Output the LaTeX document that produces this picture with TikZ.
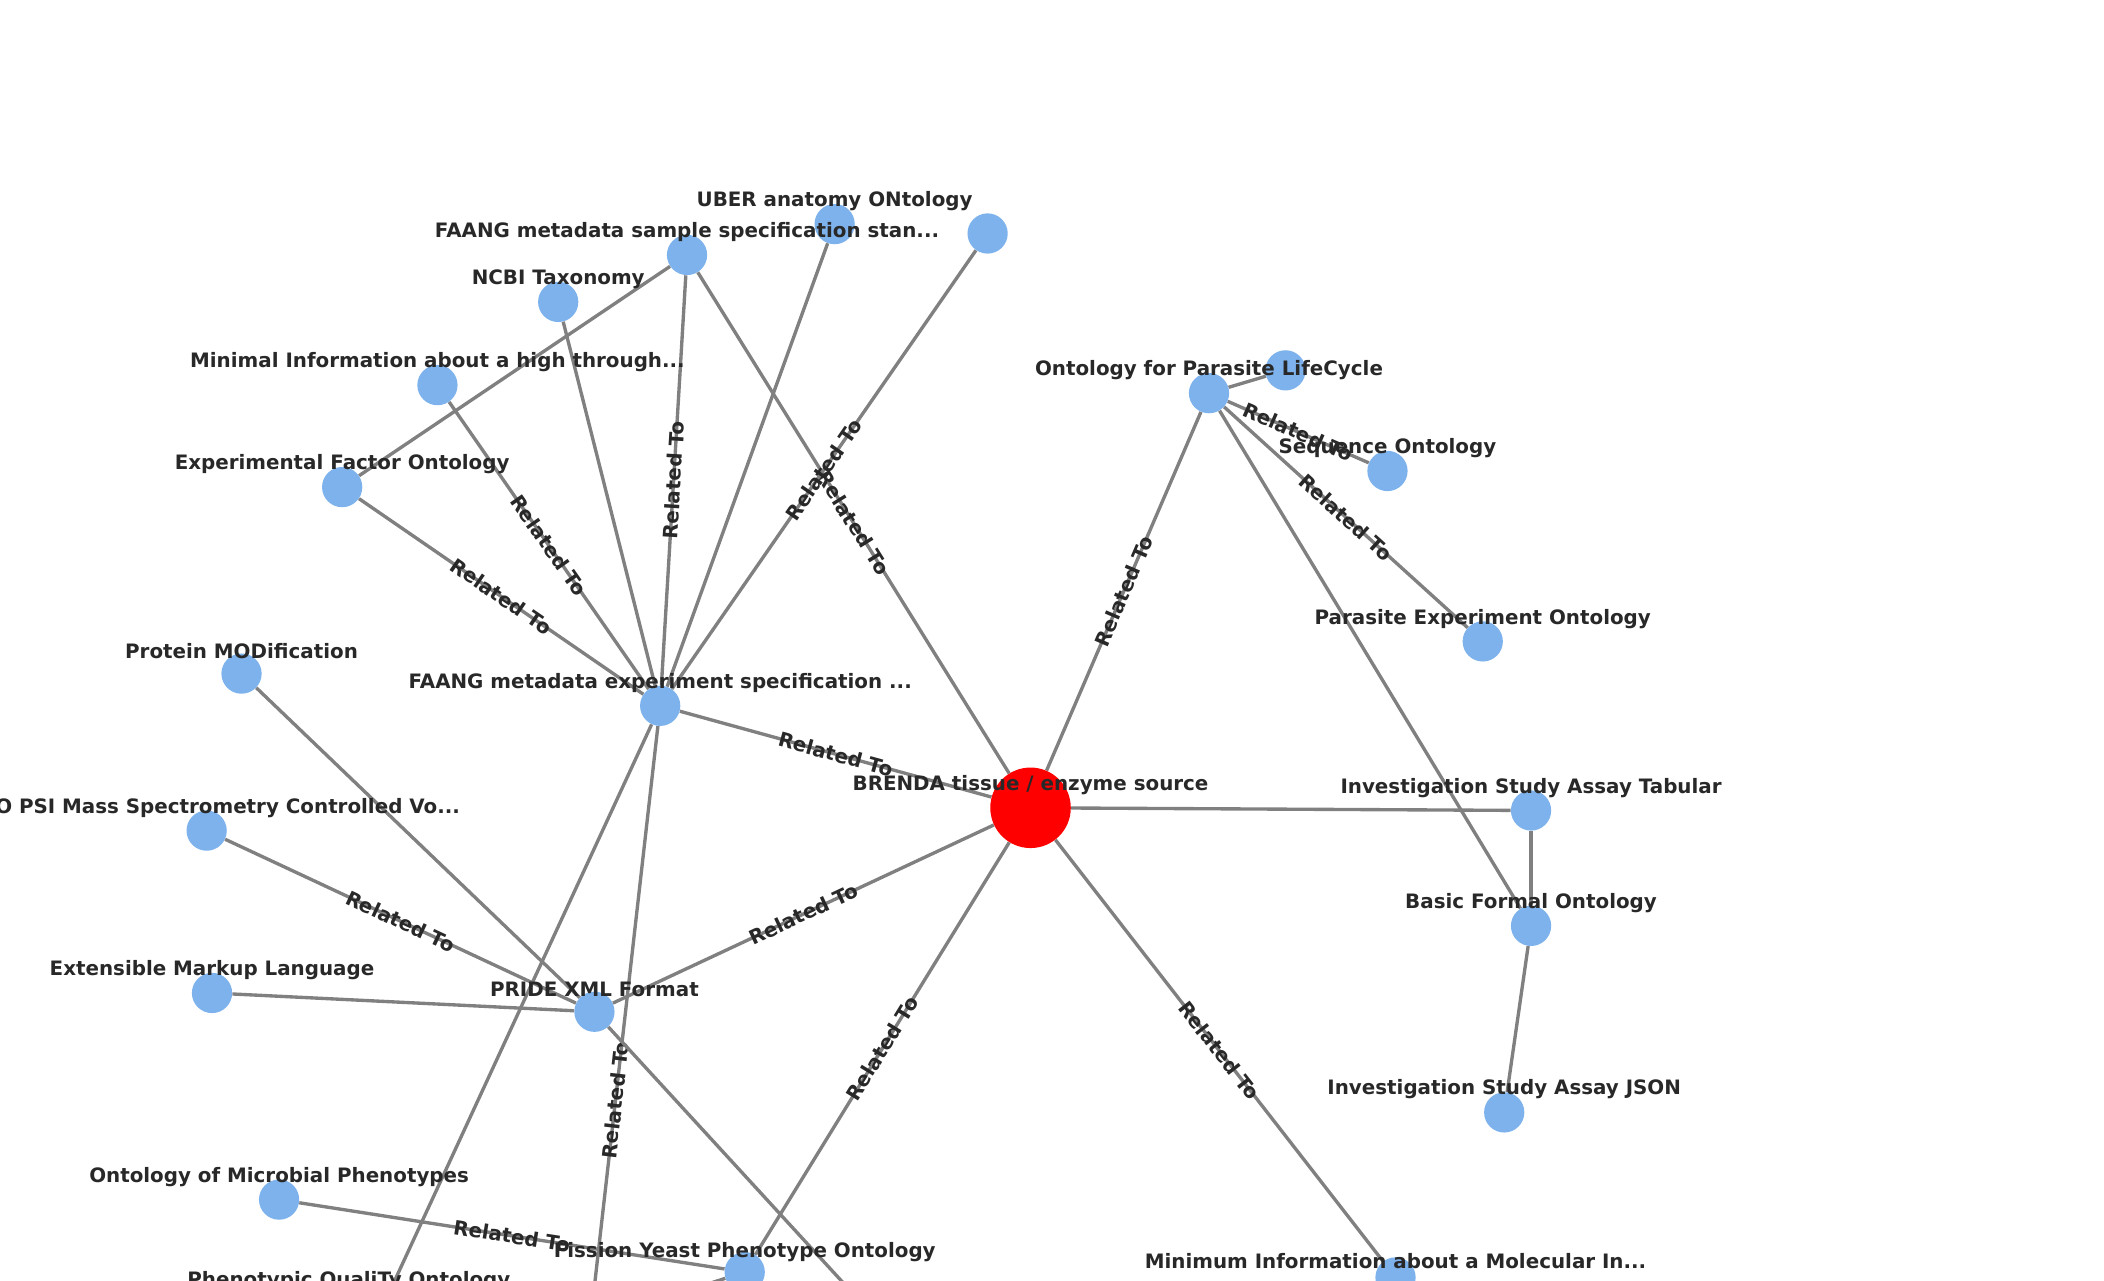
\documentclass[tikz,border=0pt]{standalone}
\usepackage{fontspec}
\setmainfont{DejaVu Sans}
\usetikzlibrary{backgrounds}
\pgfdeclarelayer{edges}
\pgfdeclarelayer{txt}
\pgfsetlayers{edges,main,txt}
\definecolor{nodeblue}{RGB}{125,178,236}
\definecolor{edgegray}{RGB}{128,128,128}
\definecolor{txtc}{RGB}{40,40,40}
\tikzset{
 bn/.style={circle,fill=nodeblue,minimum size=30pt,inner sep=0pt},
 rn/.style={circle,fill=red,minimum size=60pt,inner sep=0pt},
 nl/.style={font=\bfseries\fontsize{14.8}{16}\selectfont,text=txtc,inner sep=0pt},
 ed/.style={draw=edgegray,line width=2.5pt},
 el/.style={font=\bfseries\fontsize{14.8}{16}\selectfont,text=txtc,sloped,inner sep=0pt}
}
\begin{document}
\begin{tikzpicture}[x=1pt,y=-1pt]
\useasboundingbox (0,0) rectangle (1568,954);
\clip (0,0) rectangle (1568,954);
\node[rn] (br) at (768,602) {};
\node[bn] (uber) at (622,167) {};
\node[bn] (u1) at (736,174) {};
\node[bn] (fs) at (512,190) {};
\node[bn] (ncbi) at (416,225) {};
\node[bn] (mi) at (326,287) {};
\node[bn] (efo) at (255,363) {};
\node[bn] (pmod) at (180,502) {};
\node[bn] (fe) at (492,526) {};
\node[bn] (psi) at (154,619) {};
\node[bn] (xml) at (158,740) {};
\node[bn] (pride) at (443,754) {};
\node[bn] (omp) at (208,894) {};
\node[bn] (pato) at (280,985) {};
\node[bn] (b1) at (440,985) {};
\node[bn] (b2) at (655,985) {};
\node[bn] (fypo) at (555,948) {};
\node[bn] (mimi) at (1040,952) {};
\node[bn] (plc) at (901,293) {};
\node[bn] (u2) at (958,276) {};
\node[bn] (so) at (1034,351) {};
\node[bn] (peo) at (1105,478) {};
\node[bn] (isat) at (1141,604) {};
\node[bn] (bfo) at (1141,690) {};
\node[bn] (isaj) at (1121,829) {};
\begin{pgfonlayer}{edges}
\draw[ed] (br) -- node[el]{Related To} (fe);
\draw[ed] (br) -- node[el]{Related To} (fs);
\draw[ed] (br) -- node[el]{Related To} (plc);
\draw[ed] (br) -- (isat);
\draw[ed] (br) -- node[el]{Related To} (pride);
\draw[ed] (br) -- node[el]{Related To} (fypo);
\draw[ed] (br) -- node[el]{Related To} (mimi);
\draw[ed] (fe) -- (uber);
\draw[ed] (fe) -- node[el]{Related To} (u1);
\draw[ed] (fe) -- node[el]{Related To} (fs);
\draw[ed] (fe) -- (ncbi);
\draw[ed] (fe) -- node[el]{Related To} (mi);
\draw[ed] (fe) -- node[el]{Related To} (efo);
\draw[ed] (fs) -- (efo);
\draw[ed] (fe) -- (pato);
\draw[ed] (fe) -- node[el,pos=0.65]{Related To} (b1);
\draw[ed] (pmod) -- (pride);
\draw[ed] (psi) -- node[el]{Related To} (pride);
\draw[ed] (xml) -- (pride);
\draw[ed] (pride) -- (b2);
\draw[ed] (omp) -- node[el]{Related To} (fypo);
\draw[ed] (fypo) -- (b1);
\draw[ed] (plc) -- (u2);
\draw[ed] (plc) -- node[el]{Related To} (so);
\draw[ed] (plc) -- node[el]{Related To} (peo);
\draw[ed] (plc) -- (bfo);
\draw[ed] (isat) -- (bfo);
\draw[ed] (bfo) -- (isaj);
\end{pgfonlayer}
\begin{pgfonlayer}{txt}
\node[nl] (tbr) at (768,585) {BRENDA tissue / enzyme source};
\node[nl] (tuber) at (622,150) {UBER anatomy ONtology};
\node[nl] (tfs) at (512,173) {FAANG metadata sample specification stan...};
\node[nl] (tncbi) at (416,208) {NCBI Taxonomy};
\node[nl] (tmi) at (326,270) {Minimal Information about a high through...};
\node[nl] (tefo) at (255,346) {Experimental Factor Ontology};
\node[nl] (tpmod) at (180,485) {Protein MODification};
\node[nl] (tfe) at (492,509) {FAANG metadata experiment specification ...};
\node[nl,anchor=east] (tpsi) at (343,602) {HUPO PSI Mass Spectrometry Controlled Vo...};
\node[nl] (txml) at (158,723) {Extensible Markup Language};
\node[nl] (tpride) at (443,737) {PRIDE XML Format};
\node[nl] (tomp) at (208,877) {Ontology of Microbial Phenotypes};
\node[nl] (tpato) at (260,955) {Phenotypic QualiTy Ontology};
\node[nl] (tfypo) at (555,933) {Fission Yeast Phenotype Ontology};
\node[nl] (tmimi) at (1040,940) {Minimum Information about a Molecular In...};
\node[nl] (tplc) at (901,276) {Ontology for Parasite LifeCycle};
\node[nl] (tso) at (1034,334) {Sequence Ontology};
\node[nl] (tpeo) at (1105,461) {Parasite Experiment Ontology};
\node[nl] (tisat) at (1141,587) {Investigation Study Assay Tabular};
\node[nl] (tbfo) at (1141,673) {Basic Formal Ontology};
\node[nl] (tisaj) at (1121,812) {Investigation Study Assay JSON};
\end{pgfonlayer}
\end{tikzpicture}
\end{document}
